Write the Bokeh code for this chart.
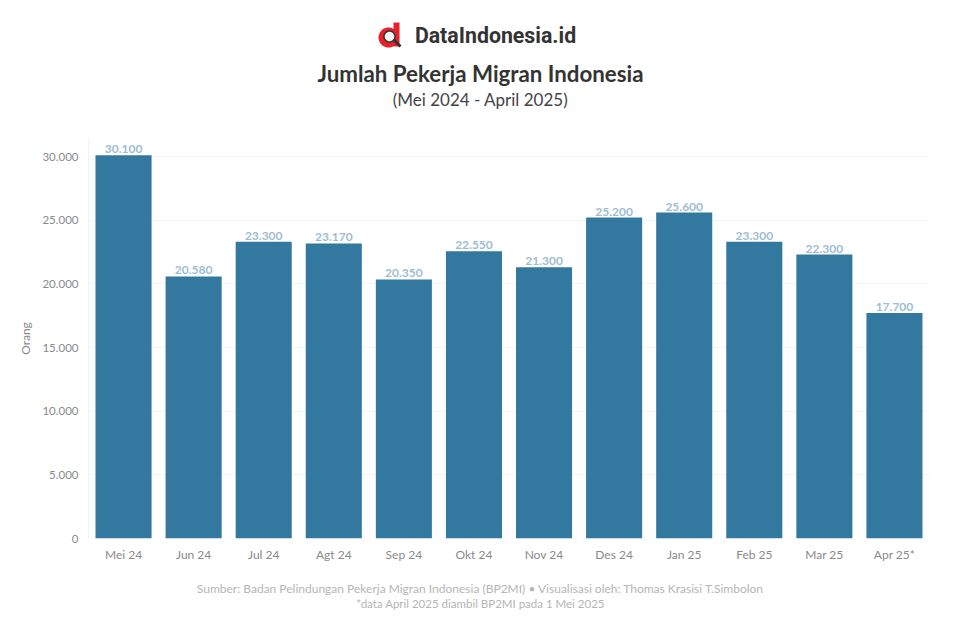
from bokeh.plotting import figure
from bokeh.layouts import column
from bokeh.models import ColumnDataSource, FixedTicker, CustomJSTickFormatter
from bokeh.core.properties import value
from bokeh.embed import file_html
from bokeh.resources import INLINE
import math

categories = ["Mei 24", "Jun 24", "Jul 24", "Agt 24", "Sep 24", "Okt 24", "Nov 24", "Des 24", "Jan 25", "Feb 25", "Mar 25", "Apr 25*"]
workers = [30100, 20580, 23300, 23170, 20350, 22550, 21300, 25200, 25600, 23300, 22300, 17700]
y_ticks = [0, 5000, 10000, 15000, 20000, 25000, 30000]
title = "Jumlah Pekerja Migran Indonesia"
subtitle = "(Mei 2024 - April 2025)"
brand = "DataIndonesia.id"
source_line = "Sumber: Badan Pelindungan Pekerja Migran Indonesia (BP2MI) • Visualisasi oleh: Thomas Krasisi T.Simbolon"
note_line = "*data April 2025 diambil BP2MI pada 1 Mei 2025"

W = 956
LEFT, RIGHT = 88, 929
HEAD_H, PLOT_H, FOOT_H = 138, 427, 51
BAR = "#33789f"
TXT = "#333333"
GREY = "#8a8a8a"
FONT = "Lato"


def panel(height, y_top):
    f = figure(width=W, height=height, x_range=(LEFT, RIGHT), y_range=(y_top + height, y_top),
               output_backend="svg", toolbar_location=None, x_axis_type=None, y_axis_type=None,
               min_border=0, min_border_left=LEFT, min_border_right=W - RIGHT,
               outline_line_color=None, border_fill_color="white", background_fill_color="white")
    return f


def put(f, txt, x, y, size, color, font=FONT, style="normal"):
    f.text(x=[x], y=[y], text=[txt], text_align="center", text_baseline="middle",
           text_font=value(font), text_font_size=f"{size}px", text_font_style=style, text_color=color)


def ring(cx, cy, r):
    a = [i * math.pi / 24 for i in range(49)]
    return [cx + r * math.cos(t) for t in a], [cy + r * math.sin(t) for t in a]


# header with logo
head = panel(HEAD_H, 0)
head.patch(*ring(388, 37, 10), fill_color="#e8202a", line_color=None)
head.patch([393, 399, 399, 393], [22, 22, 46, 46], fill_color="#e8202a", line_color=None)
head.patch(*ring(389, 36, 5.5), fill_color="#f4f4f4", line_color="#333333", line_width=1.5)
head.patch([392, 394, 401, 399], [40, 38, 45, 47], fill_color="#333333", line_color=None)
put(head, brand, 495, 35, 21.3, TXT, "Roboto", "bold")
put(head, title, 480, 73, 22.3, TXT, FONT, "bold")
put(head, subtitle, 480, 99, 17, "#444444")

# chart
src = ColumnDataSource(dict(cat=categories, val=workers,
                            lab=[f"{v:,}".replace(",", ".") for v in workers]))
p = figure(width=W, height=PLOT_H, x_range=categories, y_range=(0, 31414),
           output_backend="svg", toolbar_location=None,
           min_border_left=LEFT, min_border_right=W - RIGHT, min_border_top=0, min_border_bottom=27,
           outline_line_color=None, background_fill_color="white", border_fill_color="white")
p.x_range.range_padding = 0
p.x_range.factor_padding = 0
p.vbar(x="cat", top="val", width=0.8, source=src, fill_color=BAR, line_color=None)
p.text(x="cat", y="val", text="lab", source=src, text_align="center", text_baseline="bottom",
       y_offset=-2, text_font=value(FONT), text_font_size="12px", text_font_style="bold",
       text_color="#9dbdd2")

p.yaxis.ticker = FixedTicker(ticks=y_ticks)
p.yaxis.formatter = CustomJSTickFormatter(code="return tick.toLocaleString('de-DE')")
p.yaxis.axis_line_color = "#f2f2f2"
p.yaxis.major_tick_line_color = None
p.yaxis.major_tick_out = 0
p.yaxis.minor_tick_line_color = None
p.yaxis.minor_tick_out = 0
p.yaxis.major_label_text_font = FONT
p.yaxis.major_label_text_font_size = "11.5px"
p.yaxis.major_label_text_color = GREY
p.yaxis.major_label_standoff = 10
p.yaxis.axis_label = "Orang"
p.yaxis.axis_label_text_font = FONT
p.yaxis.axis_label_text_font_size = "12px"
p.yaxis.axis_label_text_font_style = "normal"
p.yaxis.axis_label_text_color = GREY
p.yaxis.axis_label_standoff = 6
p.xaxis.axis_line_color = None
p.xaxis.major_tick_line_color = None
p.xaxis.major_tick_out = 0
p.xaxis.minor_tick_line_color = None
p.xaxis.minor_tick_out = 0
p.xaxis.major_label_text_font = FONT
p.xaxis.major_label_text_font_size = "12px"
p.xaxis.major_label_text_color = GREY
p.xaxis.major_label_standoff = 8
p.xgrid.grid_line_color = None
p.ygrid.ticker = FixedTicker(ticks=y_ticks)
p.ygrid.grid_line_color = "#f4f4f4"

# footer
foot = panel(FOOT_H, HEAD_H + PLOT_H)
put(foot, source_line, 480, 588, 12, "#b5b5b5")
put(foot, note_line, 480, 603, 11.5, "#b5b5b5")

page = column(head, p, foot, spacing=0)
open("out.html", "w").write(file_html(page, INLINE))
